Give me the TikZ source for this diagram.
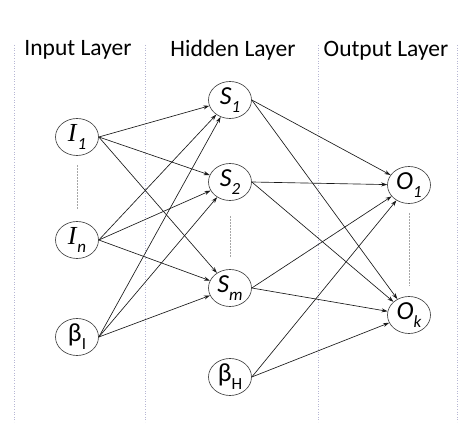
\documentclass[tikz,border=0pt]{standalone}
\usepackage{fontspec}
\setmainfont{Carlito}
\newfontfamily\serifit{Liberation Serif}
\usetikzlibrary{arrows.meta,shapes.geometric}
\newcommand\mysub[1]{\raisebox{-0.3em}{\fontsize{17}{17}\selectfont #1}}
\begin{document}
\begin{tikzpicture}[x=1pt,y=-1pt,
  neuron/.style={draw=black!75,line width=0.65pt,ellipse,minimum width=43pt,minimum height=37pt,inner sep=0pt,font=\fontsize{26}{26}\selectfont},
  conn/.style={draw=black!90,line width=0.65pt,-{Stealth[length=6pt,width=4pt]}},
  sep/.style={draw=blue!25!gray!45,line width=0.6pt,dotted},
  gap/.style={draw=gray!70,line width=0.5pt,densely dotted},
  title/.style={font=\fontsize{23.5}{23.5}\selectfont,anchor=center}]
\useasboundingbox (0,0) rectangle (474,430);
\coordinate (v1a) at (14,45); \coordinate (v1b) at (14,422);
\coordinate (v2a) at (145,45); \coordinate (v2b) at (145,422);
\coordinate (v3a) at (318,45); \coordinate (v3b) at (318,422);
\coordinate (v4a) at (457,45); \coordinate (v4b) at (457,422);
\draw[sep] (v1a) -- (v1b);
\draw[sep] (v2a) -- (v2b);
\draw[sep] (v3a) -- (v3b);
\draw[sep] (v4a) -- (v4b);
\node[title] (t1) at (78,50) {Input Layer};
\node[title] (t2) at (233,50) {Hidden Layer};
\node[title] (t3) at (386,51) {Output Layer};
\node[neuron] (I1) at (77,137) {{\serifit\itshape I}\kern1pt\mysub{\itshape 1}};
\node[neuron] (In) at (77,240) {{\serifit\itshape I}\kern1pt\mysub{\itshape n}};
\node[neuron] (BI) at (77,337) {β\mysub{I}};
\node[neuron] (S1) at (230,100) {\itshape S\mysub{1}};
\node[neuron] (S2) at (230,182) {\itshape S\mysub{2}};
\node[neuron] (Sm) at (230,288) {\itshape S\mysub{m}};
\node[neuron] (BH) at (230,377) {β\mysub{H}};
\node[neuron] (O1) at (409,185) {\itshape O\mysub{1}};
\node[neuron] (Ok) at (409,315) {\itshape O\mysub{k}};
\draw[gap] (I1.south) ++(0,9) coordinate (g1a) (In.north) ++(0,-12) coordinate (g1b);
\draw[gap] (g1a) -- (g1b);
\draw[gap] (S2.south) ++(0,15) coordinate (g2a) (Sm.north) ++(0,-12) coordinate (g2b);
\draw[gap] (g2a) -- (g2b);
\draw[gap] (O1.south) ++(0,9) coordinate (g3a) (Ok.north) ++(0,-10) coordinate (g3b);
\draw[gap] (g3a) -- (g3b);
\foreach \a in {I1,In,BI}{
  \foreach \b in {S1,S2,Sm}{
    \draw[conn] (\a.east) -- (\b);
  }
}
\foreach \a in {S1,S2,Sm,BH}{
  \foreach \b in {O1,Ok}{
    \draw[conn] (\a.east) -- (\b);
  }
}
\end{tikzpicture}
\end{document}
